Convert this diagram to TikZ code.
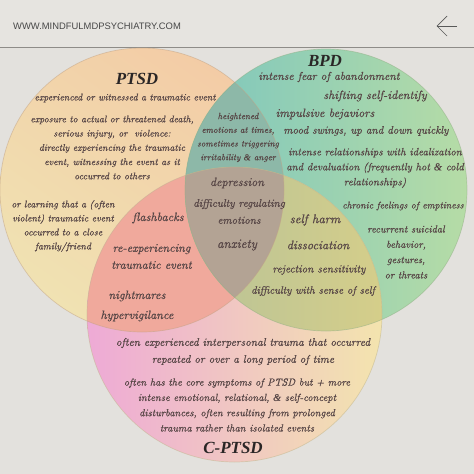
\documentclass[tikz,border=0pt]{standalone}
\usepackage{fontspec}
\newfontfamily\titlefont{Liberation Serif}
\newfontfamily\headfont{Liberation Sans}
\newfontfamily\bodyit{lmroman10-italic.otf}[FakeBold=0.7]
\newfontfamily\ampfont{Liberation Serif}[FakeBold=0.3]
\newcommand\myfs[2]{\fontsize{#1}{#2}\selectfont}
\newcommand\myamp{{\ampfont\itshape\&}}
\definecolor{bg}{HTML}{E3E1DD}
\definecolor{headbg}{HTML}{E6E4E0}
\definecolor{linecol}{HTML}{8E8C88}
\definecolor{tcol}{HTML}{574646}
\definecolor{titlecol}{HTML}{2A2626}
\definecolor{ptsdA}{HTML}{F3CCA6}
\definecolor{ptsdB}{HTML}{F0E2B2}
\definecolor{bpdA}{HTML}{7CC6BE}
\definecolor{bpdB}{HTML}{B6DCA6}
\definecolor{cpA}{HTML}{EEAAD6}
\definecolor{cpB}{HTML}{F3E4AE}
\definecolor{salmon}{HTML}{F0A99C}
\definecolor{tealgrey}{HTML}{8DB8A8}
\definecolor{oliveA}{HTML}{A9BD9E}
\definecolor{oliveB}{HTML}{D5CE8A}
\definecolor{taupe}{HTML}{B3A394}
\tikzset{
  txt/.style={text=tcol, align=center, inner sep=0pt},
  ttl/.style={font=\titlefont\bfseries\itshape\myfs{17}{20}, text=titlecol, inner sep=0pt},
  rim/.style={draw=#1, line width=0.7pt, draw opacity=0.5}
}
\begin{document}
\begin{tikzpicture}[x=1pt,y=-1pt]
\useasboundingbox (0,0) rectangle (474,474);
\clip (0,0) rectangle (474,474);
\fill[bg] (0,0) rectangle (474,474);
\fill[headbg] (0,0) rectangle (474,47);
% header
\node[font=\headfont\myfs{9.4}{11}, text=black!72, anchor=west, inner sep=0pt] (site) at (13,26) {WWW.MINDFULMDPSYCHIATRY.COM};
\coordinate (arrT) at (437,26);
\coordinate (arrE) at (457,26);
\coordinate (arrU) at (447,16);
\coordinate (arrD) at (447,36);
\draw[black!65, line width=0.7pt] (arrE) -- (arrT);
\draw[black!65, line width=0.7pt] (arrU) -- (arrT) -- (arrD);
\coordinate (L1) at (0,47);
\coordinate (L2) at (474,47);
\draw[linecol, line width=0.9pt] (L1) -- (L2);
% circles
\coordinate (P) at (142,190);
\coordinate (B) at (326,190);
\coordinate (C) at (234.5,314.5);
\shade[top color=ptsdA, bottom color=ptsdB, shading angle=-35] (P) circle (142pt);
\shade[left color=bpdA, right color=bpdB] (B) circle (141pt);
\shade[left color=cpA, right color=cpB] (C) circle (147.5pt);
\begin{scope}
  \clip (P) circle (142pt);
  \fill[salmon] (C) circle (147.5pt);
  \fill[tealgrey] (B) circle (141pt);
\end{scope}
\begin{scope}
  \clip (B) circle (141pt);
  \shade[left color=oliveA, right color=oliveB] (C) circle (147.5pt);
\end{scope}
\begin{scope}
  \clip (P) circle (142pt);
  \clip (B) circle (141pt);
  \fill[taupe] (C) circle (147.5pt);
\end{scope}
\draw[rim=ptsdA!80!black] (P) circle (142pt);
\draw[rim=bpdB!80!black] (B) circle (141pt);
\draw[rim=cpB!80!black] (C) circle (147.5pt);
% titles
\node[ttl] (tptsd) at (137,79) {PTSD};
\node[ttl] (tbpd) at (325,61) {BPD};
\node[ttl] (tcptsd) at (233,448) {C-PTSD};
% PTSD texts
\node[txt, font=\bodyit\myfs{9.7}{14.25}] (p1) at (125,98) {experienced or witnessed a traumatic event};
\node[txt, font=\bodyit\myfs{9.7}{14.25}] (p2) at (112,147.5) {exposure to actual or threatened death,\\serious injury, or\ \ violence:\\directly experiencing the traumatic\\event, witnessing the event as it\\occurred to others};
\node[txt, font=\bodyit\myfs{9.7}{14}] (p3) at (63,226) {or learning that a (often\\violent) traumatic event\\occurred to a close\\family/friend};
\node[txt, font=\bodyit\myfs{12}{17}] (flash) at (158,218) {flashbacks};
\node[txt, font=\bodyit\myfs{11.8}{17}] (reexp) at (151.5,256.5) {re-experiencing\\traumatic event};
\node[txt, font=\bodyit\myfs{12}{17}] (night) at (137,296) {nightmares};
\node[txt, font=\bodyit\myfs{12}{17}] (hyper) at (137,316) {hypervigilance};
% PTSD & BPD
\node[txt, font=\bodyit\myfs{9}{13.7}] (pb) at (238,137.5) {heightened\\emotions at times,\\sometimes triggering\\irritability \myamp{} anger};
% BPD texts
\node[txt, font=\bodyit\myfs{11.4}{14}] (b1) at (329,77) {intense fear of abandonment};
\node[txt, font=\bodyit\myfs{12}{14}] (b2) at (375,96) {shifting self-identify};
\node[txt, font=\bodyit\myfs{12}{14}] (b3) at (325,114) {impulsive bejaviors};
\node[txt, font=\bodyit\myfs{11}{14}] (b4) at (366,131) {mood swings, up and down quickly};
\node[txt, font=\bodyit\myfs{10.6}{15}] (b5) at (375,168) {intense relationships with idealization\\and devaluation (frequently hot \myamp{} cold\\relationships)};
\node[txt, font=\bodyit\myfs{9.7}{14}] (b6) at (403,206) {chronic feelings of emptiness};
\node[txt, font=\bodyit\myfs{10.2}{15.3}] (b7) at (406,252) {recurrent suicidal\\behavior,\\gestures,\\or threats};
% centre
\node[txt, font=\bodyit\myfs{12}{17}] (dep) at (237,183) {depression};
\node[txt, font=\bodyit\myfs{11}{17}] (dre) at (239,211.5) {difficulty regulating\\emotions};
\node[txt, font=\bodyit\myfs{12.8}{17}] (anx) at (237,245) {anxiety};
% BPD & C-PTSD
\node[txt, font=\bodyit\myfs{12.5}{17}] (sh) at (315,220) {self harm};
\node[txt, font=\bodyit\myfs{12.3}{17}] (dis) at (318,245) {dissociation};
\node[txt, font=\bodyit\myfs{11}{17}] (rej) at (319,270) {rejection sensitivity};
\node[txt, font=\bodyit\myfs{10.7}{17}] (dws) at (313,291) {difficulty with sense of self};
% C-PTSD texts
\node[txt, font=\bodyit\myfs{11.1}{17}] (c1) at (243,351.5) {often experienced interpersonal trauma that occurred\\repeated or over a long period of time};
\node[txt, font=\bodyit\myfs{10.3}{15.3}] (c2) at (237,405) {often has the core symptoms of PTSD but + more\\intense emotional, relational, \myamp{} self-concept\\disturbances, often resulting from prolonged\\trauma rather than isolated events};
\end{tikzpicture}
\end{document}
